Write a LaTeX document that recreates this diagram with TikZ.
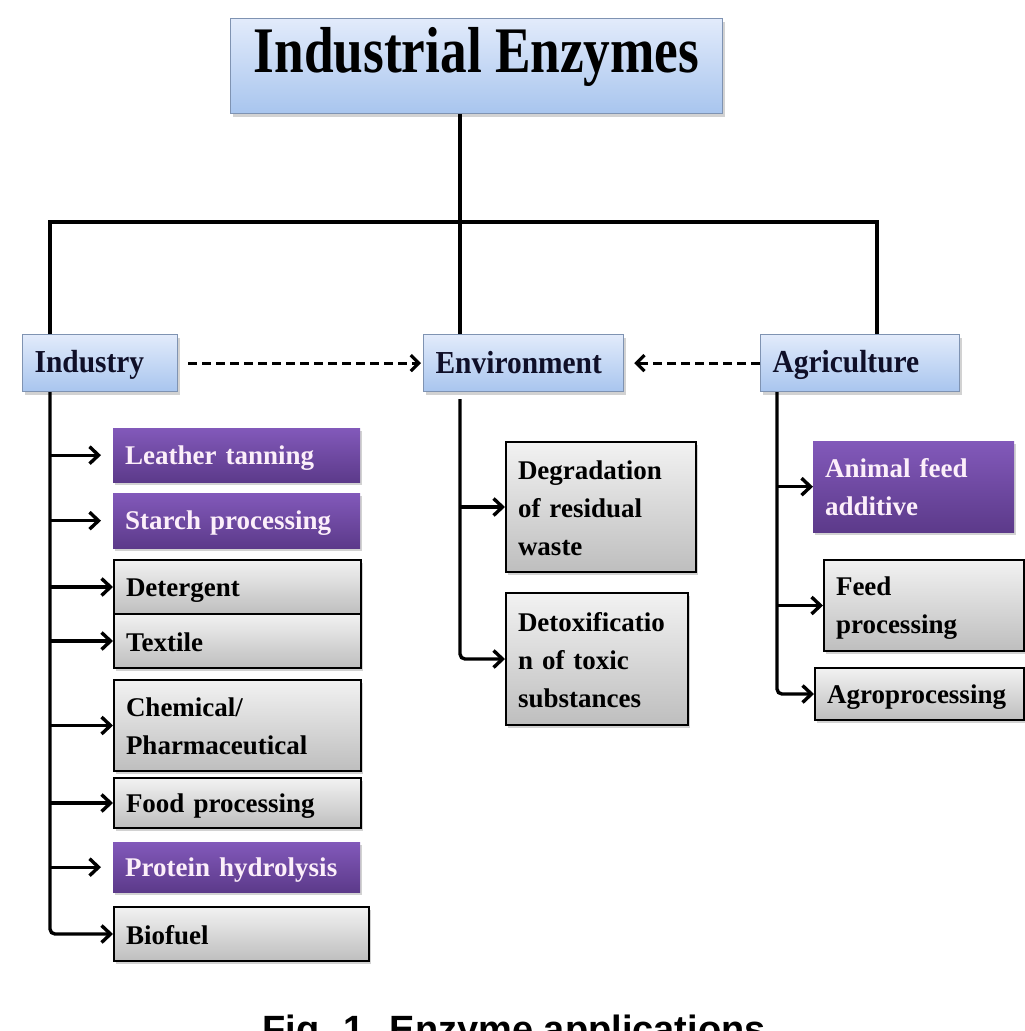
\documentclass[tikz,border=0pt]{standalone}
\usepackage{fontspec}
\setmainfont{Liberation Serif}
\newfontfamily\titlefam[FakeStretch=0.82]{Liberation Serif}
\newfontfamily\catfam[FakeStretch=0.92]{Liberation Serif}
\newfontfamily\capfam{Liberation Sans}
\usetikzlibrary{arrows.meta,shadows}
\definecolor{bluetop}{HTML}{E2EBFB}
\definecolor{bluebot}{HTML}{A8C5EE}
\definecolor{blueedge}{HTML}{7F93B2}
\definecolor{purtop}{HTML}{8259BA}
\definecolor{purbot}{HTML}{5C3A8A}
\definecolor{purtext}{HTML}{FCEFFA}
\definecolor{graytop}{HTML}{F2F2F2}
\definecolor{graybot}{HTML}{BEBEBE}
\definecolor{navytext}{HTML}{0F0F28}
\begin{document}
\begin{tikzpicture}[x=1pt,y=-1pt,
  conn/.style={line width=3.4pt, black},
  arr/.style={conn, -{Straight Barb[length=9pt,width=17pt]}},
  dasharr/.style={line width=3.2pt, black, dash pattern=on 9pt off 5pt, -{Straight Barb[length=8pt,width=16pt]}},
  shad/.style={drop shadow={shadow xshift=2pt, shadow yshift=-3pt, opacity=0.35}},
  basebox/.style={anchor=north west, align=left, inner xsep=12pt, inner ysep=0pt, shad},
  bluebox/.style={basebox, draw=blueedge, line width=1.2pt, top color=bluetop, bottom color=bluebot,
     text=navytext, font=\catfam\bfseries\fontsize{32}{38}\selectfont,
     execute at begin node=\rule{0pt}{26pt}, execute at end node=\rule[-5pt]{0pt}{5pt}},
  graybox/.style={basebox, draw=black, line width=2pt, top color=graytop, bottom color=graybot,
     text=black, font=\bfseries\fontsize{27}{38}\selectfont,
     execute at begin node=\rule{0pt}{24pt}, execute at end node=\rule[-4pt]{0pt}{4pt}},
  purbox/.style={basebox, draw=none, top color=purtop, bottom color=purbot,
     text=purtext, font=\bfseries\fontsize{27}{38}\selectfont,
     execute at begin node=\rule{0pt}{24pt}, execute at end node=\rule[-4pt]{0pt}{4pt}},
]
\useasboundingbox (0,0) rectangle (1025,1031);
\clip (0,0) rectangle (1025,1031);
\fill[white] (0,0) rectangle (1025,1031);

% title
\node[basebox, align=center, draw=blueedge, line width=1.2pt, top color=bluetop, bottom color=bluebot,
  text=black, font=\titlefam\bfseries\fontsize{65}{70}\selectfont, text depth=33pt,
  minimum width=492pt, minimum height=95pt] (title) at (230,18) {Industrial Enzymes};

% category boxes
\node[bluebox, text width=131pt, minimum width=155pt, minimum height=57pt] (ind) at (22,334) {Industry};
\node[bluebox, text width=176pt, minimum width=200pt, minimum height=57pt] (env) at (423,334) {Environment};
\node[bluebox, text width=175pt, minimum width=199pt, minimum height=57pt] (agr) at (760,334) {Agriculture};

% industry items
\node[purbox, text width=223pt, minimum width=247pt, minimum height=54pt] (leather) at (113,428) {Leather tanning};
\node[purbox, text width=223pt, minimum width=247pt, minimum height=55pt] (starch) at (113,493) {Starch processing};
\node[graybox, text width=223pt, minimum width=247pt, minimum height=54pt] (deter) at (113,559) {Detergent};
\node[graybox, text width=223pt, minimum width=247pt, minimum height=54pt] (text) at (113,613) {Textile};
\node[graybox, text width=223pt, minimum width=247pt, minimum height=91pt] (chem) at (113,679) {Chemical/\\Pharmaceutical};
\node[graybox, text width=223pt, minimum width=247pt, minimum height=50pt] (food) at (113,777) {Food processing};
\node[purbox, text width=223pt, minimum width=247pt, minimum height=50pt] (prot) at (113,842) {Protein hydrolysis};
\node[graybox, text width=231pt, minimum width=255pt, minimum height=54pt] (bio) at (113,906) {Biofuel};

% environment items
\node[graybox, text width=166pt, minimum width=190pt, minimum height=130pt] (degr) at (505,441) {Degradation\\of residual\\waste};
\node[graybox, text width=158pt, minimum width=182pt, minimum height=132pt] (detox) at (505,592) {Detoxificatio\\n of toxic\\substances};

% agriculture items
\node[purbox, text width=177pt, minimum width=201pt, minimum height=91pt] (anim) at (813,441) {Animal feed\\additive};
\node[graybox, text width=176pt, minimum width=200pt, minimum height=91pt] (feed) at (823,559) {Feed\\processing};
\node[graybox, text width=185pt, minimum width=209pt, minimum height=52pt] (agro) at (814,667) {Agroprocessing};

% caption (cut off at the lower edge, as in the reference)
\node[anchor=base, font=\capfam\bfseries\fontsize{38}{44}\selectfont, inner sep=0pt] (cap) at (514,1042) {Fig. 1. Enzyme applications};

% tree connectors
\coordinate (hl) at (50,222);
\coordinate (hm) at (460,222);
\coordinate (hr) at (877,222);
\coordinate (at) at (777,0);
\draw[conn] (hm |- title.south) -- (hm);
\draw[conn] (ind.north -| hl) -- (hl) -- (hr) -- (agr.north -| hr);
\draw[conn] (hm) -- (env.north -| hm);

% dashed links
\draw[dasharr, shorten <=10pt, shorten >=2pt] (ind.east) -- (env.west);
\draw[dasharr, shorten >=10pt] (agr.west) -- (env.east);

% industry trunk
\draw[arr, rounded corners=5pt] (ind.south -| hl) |- (bio.west);
\draw[arr, shorten >=12pt] (hl |- leather.west) -- (leather.west);
\draw[arr, shorten >=12pt] (hl |- starch.west) -- (starch.west);
\draw[arr] (hl |- deter.west) -- (deter.west);
\draw[arr] (hl |- text.west) -- (text.west);
\draw[arr] (hl |- chem.west) -- (chem.west);
\draw[arr] (hl |- food.west) -- (food.west);
\draw[arr, shorten >=12pt] (hl |- prot.west) -- (prot.west);

% environment trunk
\draw[arr, rounded corners=5pt, shorten <=7pt] (env.south -| hm) |- (detox.west);
\draw[arr] (hm |- degr.west) -- (degr.west);

% agriculture trunk
\draw[arr, rounded corners=5pt] (agr.south -| at) |- (agro.west);
\draw[arr] (at |- anim.west) -- (anim.west);
\draw[arr] (at |- feed.west) -- (feed.west);
\end{tikzpicture}
\end{document}
